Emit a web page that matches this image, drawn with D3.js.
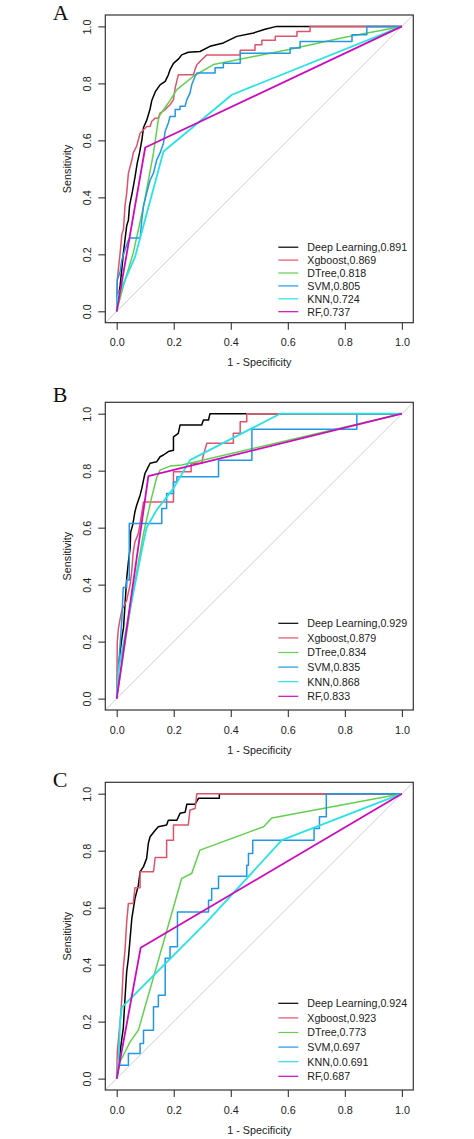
<!DOCTYPE html>
<html>
<head>
<meta charset="utf-8">
<script src="https://d3js.org/d3.v7.min.js"></script>
<style>
body { margin: 0; background: #fff; }
text { font-family: "Liberation Sans", Arial, sans-serif; fill: #222; }
.letter { font-family: "Liberation Serif", "Times New Roman", serif; font-size: 22px; fill: #111; }
</style>
</head>
<body>
<svg id="chart"></svg>
<script>
// model names and AUC labels for each panel
var models = ["Deep Learning", "Xgboost", "DTree", "SVM", "KNN", "RF"];
var aucA = ["0.891", "0.869", "0.818", "0.805", "0.724", "0.737"];
var aucB = ["0.929", "0.879", "0.834", "0.835", "0.868", "0.833"];
var aucC = ["0.924", "0.923", "0.773", "0.697", "0.0.691", "0.687"];
var ticks = [0, 0.2, 0.4, 0.6, 0.8, 1.0];
var colors = ["#000000", "#DF536B", "#61D04F", "#2297E6", "#28E2E5", "#CD0BBC"];

// ROC points [1 - specificity, sensitivity]
var A_deep = [[0,0],[0.006,0.05],[0.012,0.09],[0.018,0.15],[0.023,0.2],[0.03,0.26],[0.035,0.3],[0.041,0.32],[0.045,0.37],[0.049,0.39],[0.055,0.42],[0.064,0.47],[0.072,0.52],[0.08,0.556],[0.088,0.6],[0.094,0.645],[0.105,0.67],[0.111,0.69],[0.117,0.71],[0.123,0.74],[0.135,0.77],[0.152,0.795],[0.17,0.807],[0.181,0.83],[0.187,0.848],[0.199,0.87],[0.216,0.885],[0.228,0.9],[0.251,0.909],[0.292,0.912],[0.327,0.93],[0.374,0.942],[0.421,0.965],[0.48,0.977],[0.52,0.99],[0.561,1],[1,1]];
var A_xgb = [[0,0],[0.002,0.11],[0.006,0.15],[0.012,0.205],[0.018,0.27],[0.024,0.29],[0.029,0.37],[0.035,0.415],[0.041,0.485],[0.053,0.53],[0.058,0.556],[0.07,0.58],[0.082,0.625],[0.094,0.637],[0.105,0.649],[0.117,0.649],[0.123,0.667],[0.135,0.678],[0.146,0.678],[0.152,0.696],[0.17,0.708],[0.187,0.725],[0.199,0.743],[0.205,0.784],[0.216,0.83],[0.269,0.83],[0.275,0.85],[0.281,0.865],[0.298,0.883],[0.316,0.9],[0.433,0.9],[0.433,0.916],[0.485,0.916],[0.485,0.936],[0.509,0.936],[0.509,0.951],[0.556,0.951],[0.556,0.965],[0.632,0.965],[0.632,0.982],[0.678,0.982],[0.678,1],[1,1]];
var A_dtree = [[0,0],[0.023,0.088],[0.058,0.205],[0.094,0.368],[0.129,0.556],[0.146,0.673],[0.152,0.69],[0.181,0.731],[0.211,0.778],[0.269,0.825],[0.339,0.866],[0.6,0.918],[0.8,0.962],[1,1]];
var A_svm = [[0,0],[0.002,0.11],[0.012,0.14],[0.018,0.18],[0.029,0.216],[0.041,0.25],[0.047,0.257],[0.082,0.257],[0.088,0.32],[0.094,0.37],[0.105,0.415],[0.117,0.46],[0.129,0.485],[0.14,0.53],[0.152,0.556],[0.164,0.59],[0.17,0.632],[0.181,0.661],[0.187,0.684],[0.205,0.684],[0.205,0.708],[0.222,0.708],[0.222,0.72],[0.24,0.72],[0.246,0.743],[0.257,0.766],[0.263,0.795],[0.275,0.825],[0.281,0.836],[0.345,0.836],[0.345,0.855],[0.374,0.855],[0.374,0.871],[0.433,0.871],[0.433,0.906],[0.608,0.906],[0.608,0.924],[0.643,0.924],[0.643,0.947],[0.825,0.947],[0.825,0.971],[0.877,0.971],[0.877,1],[1,1]];
var A_knn = [[0,0],[0.003,0.05],[0.064,0.19],[0.164,0.561],[0.404,0.76],[1,1]];
var A_rf = [[0,0],[0.1,0.575],[1,1]];

var B_deep = [[0,0],[0.006,0.105],[0.012,0.164],[0.018,0.211],[0.024,0.25],[0.029,0.328],[0.035,0.422],[0.041,0.48],[0.047,0.527],[0.049,0.585],[0.056,0.609],[0.064,0.656],[0.07,0.679],[0.082,0.714],[0.088,0.738],[0.094,0.767],[0.099,0.79],[0.105,0.802],[0.117,0.826],[0.14,0.831],[0.152,0.849],[0.164,0.855],[0.181,0.867],[0.199,0.872],[0.199,0.919],[0.216,0.931],[0.222,0.96],[0.298,0.96],[0.304,0.978],[0.322,0.978],[0.327,1],[1,1]];
var B_xgb = [[0,0],[0.002,0.2],[0.006,0.246],[0.012,0.28],[0.018,0.31],[0.035,0.345],[0.047,0.4],[0.053,0.45],[0.058,0.515],[0.064,0.55],[0.076,0.58],[0.082,0.615],[0.094,0.69],[0.199,0.69],[0.199,0.796],[0.261,0.796],[0.261,0.826],[0.298,0.826],[0.304,0.855],[0.316,0.896],[0.409,0.896],[0.409,0.931],[0.433,0.931],[0.433,0.972],[0.456,0.972],[0.456,1],[1,1]];
var B_dtree = [[0,0],[0.05,0.33],[0.094,0.58],[0.123,0.708],[0.14,0.775],[0.152,0.802],[0.187,0.816],[0.228,0.82],[0.263,0.828],[1,1]];
var B_svm = [[0,0],[0.006,0.1],[0.012,0.19],[0.018,0.28],[0.023,0.39],[0.035,0.39],[0.035,0.416],[0.044,0.416],[0.044,0.615],[0.158,0.615],[0.158,0.667],[0.175,0.667],[0.175,0.72],[0.199,0.72],[0.199,0.76],[0.211,0.76],[0.211,0.779],[0.357,0.779],[0.357,0.837],[0.474,0.837],[0.474,0.945],[0.842,0.945],[0.842,1],[1,1]];
var B_knn = [[0,0],[0.006,0.1],[0.05,0.33],[0.094,0.55],[0.105,0.6],[0.14,0.662],[0.199,0.738],[0.257,0.837],[0.573,1],[1,1]];
var B_rf = [[0,0],[0.111,0.781],[1,1]];

var C_deep = [[0,0],[0.006,0.04],[0.012,0.094],[0.018,0.14],[0.023,0.176],[0.029,0.281],[0.035,0.375],[0.041,0.422],[0.047,0.492],[0.053,0.562],[0.064,0.632],[0.076,0.679],[0.082,0.726],[0.094,0.744],[0.105,0.773],[0.111,0.826],[0.117,0.849],[0.135,0.872],[0.146,0.884],[0.175,0.89],[0.181,0.907],[0.211,0.907],[0.222,0.931],[0.24,0.935],[0.246,0.963],[0.275,0.963],[0.287,0.984],[0.36,0.984],[0.36,1],[1,1]];
var C_xgb = [[0,0],[0.002,0.094],[0.012,0.2],[0.018,0.281],[0.023,0.386],[0.029,0.45],[0.035,0.55],[0.041,0.615],[0.058,0.615],[0.064,0.67],[0.082,0.67],[0.082,0.726],[0.129,0.726],[0.135,0.776],[0.175,0.776],[0.175,0.837],[0.199,0.837],[0.199,0.89],[0.251,0.89],[0.257,0.943],[0.275,0.948],[0.281,1],[1,1]];
var C_dtree = [[0,0],[0.012,0.06],[0.047,0.129],[0.076,0.17],[0.228,0.703],[0.263,0.72],[0.292,0.802],[0.515,0.884],[0.544,0.915],[1,1]];
var C_svm = [[0,0],[0.006,0.03],[0.006,0.047],[0.041,0.047],[0.041,0.088],[0.082,0.088],[0.082,0.123],[0.094,0.123],[0.094,0.17],[0.129,0.17],[0.129,0.252],[0.146,0.252],[0.146,0.293],[0.17,0.293],[0.17,0.422],[0.187,0.422],[0.187,0.463],[0.213,0.463],[0.213,0.585],[0.322,0.585],[0.322,0.626],[0.333,0.626],[0.333,0.667],[0.357,0.667],[0.357,0.71],[0.456,0.71],[0.456,0.749],[0.462,0.749],[0.462,0.79],[0.477,0.79],[0.477,0.837],[0.692,0.837],[0.692,0.878],[0.711,0.878],[0.711,0.919],[0.735,0.919],[0.735,1],[1,1]];
var C_knn = [[0,0],[0.006,0.05],[0.012,0.2],[0.018,0.25],[0.316,0.55],[0.579,0.837],[1,1]];
var C_rf = [[0,0],[0.084,0.459],[1,1]];

var W = 474, H = 1139;
var boxLeft = 105.3, boxRight = 413.3, boxH = 307.7;

var panels = [
  {letter: "A", top: 15, letterY: 20, legBottom: 311.7, legStep: 12.9, auc: aucA,
   curves: [A_deep, A_xgb, A_dtree, A_svm, A_knn, A_rf]},
  {letter: "B", top: 402.3, letterY: 402, legBottom: 696.3, legStep: 14.6, auc: aucB,
   curves: [B_deep, B_xgb, B_dtree, B_svm, B_knn, B_rf]},
  {letter: "C", top: 782.3, letterY: 786.5, legBottom: 1076.3, legStep: 14.6, auc: aucC,
   curves: [C_deep, C_xgb, C_dtree, C_svm, C_knn, C_rf]}
];

var svg = d3.select("#chart").attr("width", W).attr("height", H);
svg.append("rect").attr("width", W).attr("height", H).attr("fill", "#fff");

var x = d3.scaleLinear().domain([-0.04, 1.04]).range([boxLeft, boxRight]);
var fmt = d3.format(".1f");

panels.forEach(function(p) {
  var y = d3.scaleLinear().domain([-0.04, 1.04]).range([p.top + boxH, p.top]);
  var g = svg.append("g");

  // reference diagonal
  g.append("line")
    .attr("x1", x(-0.04)).attr("y1", y(-0.04))
    .attr("x2", x(1.04)).attr("y2", y(1.04))
    .attr("stroke", "#cfcfcf").attr("stroke-width", 1);

  var line = d3.line().x(function(d) { return x(d[0]); }).y(function(d) { return y(d[1]); });

  g.selectAll("path.roc")
    .data(p.curves)
    .enter().append("path")
    .attr("class", "roc")
    .attr("d", line)
    .attr("fill", "none")
    .attr("stroke", function(d, i) { return colors[i]; })
    .attr("stroke-width", function(d, i) { return i >= 4 ? 1.8 : 1.5; })
    .attr("stroke-linejoin", "round");

  // box
  g.append("rect")
    .attr("x", boxLeft).attr("y", p.top)
    .attr("width", boxRight - boxLeft).attr("height", boxH)
    .attr("fill", "none").attr("stroke", "#333").attr("stroke-width", 1.2);

  // x axis
  var xa = g.append("g")
    .attr("transform", "translate(0," + (p.top + boxH) + ")")
    .call(d3.axisBottom(x).tickValues(ticks).tickFormat(fmt).tickSize(7).tickSizeOuter(0).tickPadding(9));
  xa.select(".domain").remove();
  xa.selectAll("line").attr("stroke", "#333").attr("stroke-width", 1.1);
  xa.selectAll("text").attr("font-size", "10.8px").attr("font-family", "Liberation Sans, Arial, sans-serif").attr("fill", "#222");

  // y axis with rotated labels
  var ya = g.append("g")
    .attr("transform", "translate(" + boxLeft + ",0)")
    .call(d3.axisLeft(y).tickValues(ticks).tickFormat(fmt).tickSize(7).tickSizeOuter(0));
  ya.select(".domain").remove();
  ya.selectAll("line").attr("stroke", "#333").attr("stroke-width", 1.1);
  ya.selectAll("text")
    .attr("x", 0).attr("dy", 0)
    .attr("text-anchor", "middle")
    .attr("transform", "translate(-14.7,0) rotate(-90)")
    .attr("font-size", "10.8px").attr("font-family", "Liberation Sans, Arial, sans-serif").attr("fill", "#222");

  // axis titles
  g.append("text")
    .attr("x", (boxLeft + boxRight) / 2).attr("y", p.top + boxH + 43.5)
    .attr("text-anchor", "middle").attr("font-size", "10.8px")
    .text("1 - Specificity");
  g.append("text")
    .attr("transform", "translate(71," + (p.top + boxH / 2) + ") rotate(-90)")
    .attr("text-anchor", "middle").attr("font-size", "10.8px")
    .text("Sensitivity");

  // panel letter
  g.append("text").attr("class", "letter")
    .attr("x", 52.7).attr("y", p.letterY).text(p.letter);

  // legend
  var leg = g.selectAll("g.leg")
    .data(models)
    .enter().append("g")
    .attr("class", "leg")
    .attr("transform", function(d, i) { return "translate(0," + (p.legBottom - (5 - i) * p.legStep) + ")"; });
  leg.append("line")
    .attr("x1", 278.3).attr("x2", 298.3)
    .attr("stroke", function(d, i) { return colors[i]; })
    .attr("stroke-width", 1.2);
  leg.append("text")
    .attr("x", 307.3).attr("dy", "0.36em")
    .attr("font-size", "10.7px")
    .text(function(d, i) { return d + "," + p.auc[i]; });
});
</script>
</body>
</html>
